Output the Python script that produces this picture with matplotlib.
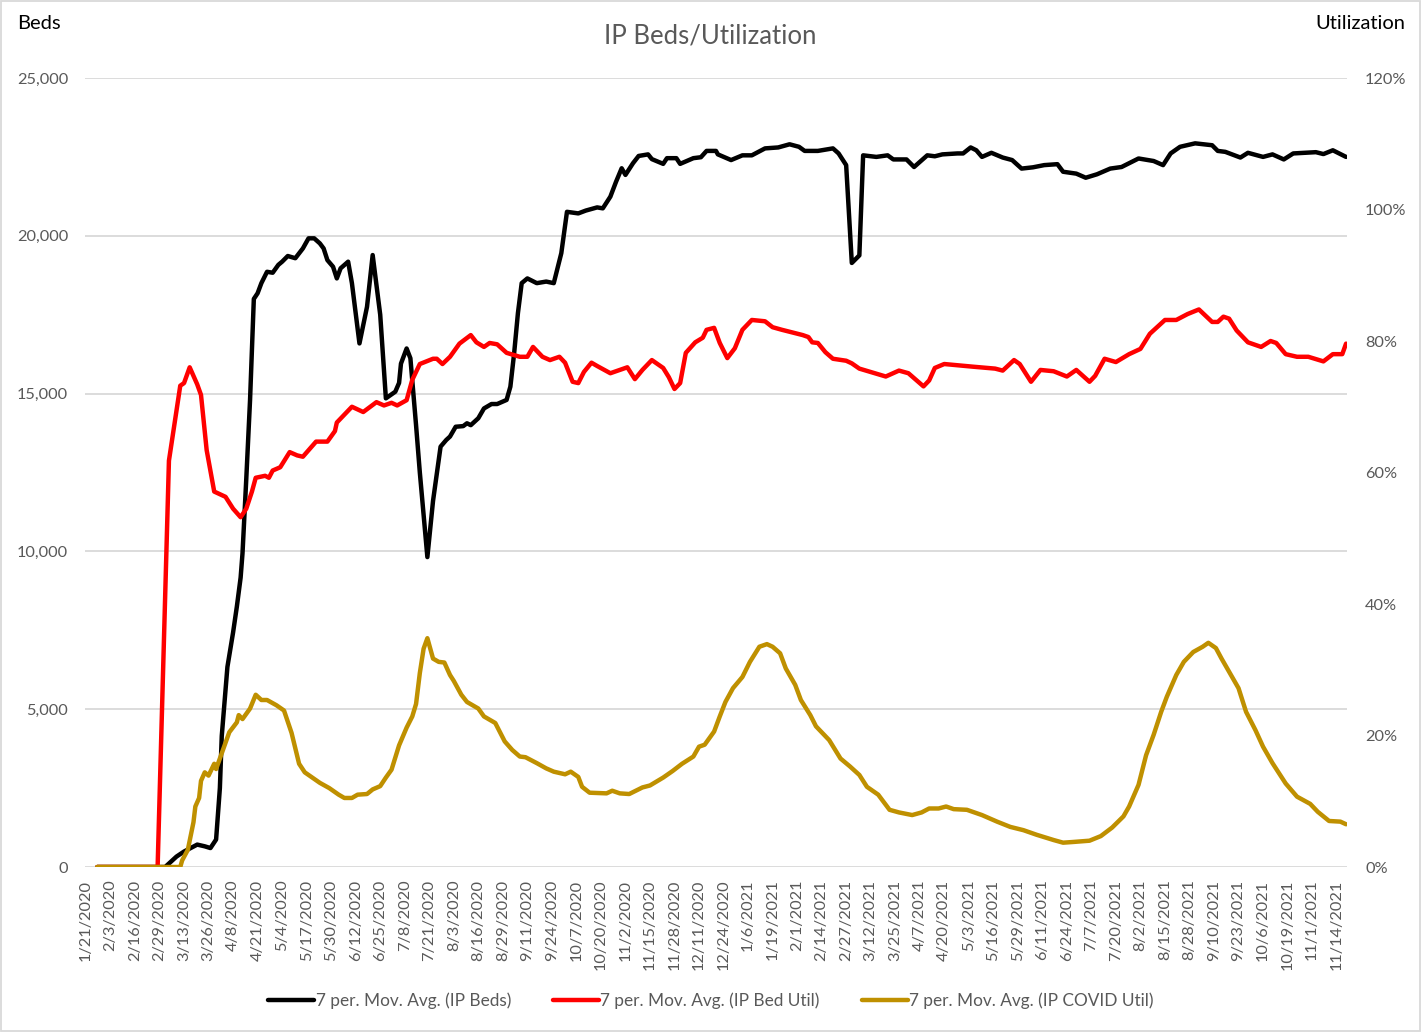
import matplotlib
matplotlib.use("Agg")
import matplotlib.pyplot as plt
from matplotlib.patches import Rectangle
from matplotlib.ticker import FuncFormatter, FixedLocator
import pandas as pd

plt.rcParams['font.family'] = ['Lato', 'DejaVu Sans']

START = pd.Timestamp("2020-01-21")
N_DAYS = 669  # categories 1/21/2020 .. 11/19/2021

tick_labels = ["1/21/2020", "2/3/2020", "2/16/2020", "2/29/2020", "3/13/2020", "3/26/2020",
               "4/8/2020", "4/21/2020", "5/4/2020", "5/17/2020", "5/30/2020", "6/12/2020",
               "6/25/2020", "7/8/2020", "7/21/2020", "8/3/2020", "8/16/2020", "8/29/2020",
               "9/11/2020", "9/24/2020", "10/7/2020", "10/20/2020", "11/2/2020", "11/15/2020",
               "11/28/2020", "12/11/2020", "12/24/2020", "1/6/2021", "1/19/2021", "2/1/2021",
               "2/14/2021", "2/27/2021", "3/12/2021", "3/25/2021", "4/7/2021", "4/20/2021",
               "5/3/2021", "5/16/2021", "5/29/2021", "6/11/2021", "6/24/2021", "7/7/2021",
               "7/20/2021", "8/2/2021", "8/15/2021", "8/28/2021", "9/10/2021", "9/23/2021",
               "10/6/2021", "10/19/2021", "11/1/2021", "11/14/2021"]

# ---- 7 per. Mov. Avg. (IP Beds) ----
beds_dates = ["2020-01-27", "2020-03-03", "2020-03-09", "2020-03-13", "2020-03-20", "2020-03-24",
              "2020-03-27", "2020-03-30", "2020-04-01", "2020-04-02", "2020-04-05", "2020-04-08",
              "2020-04-10", "2020-04-12", "2020-04-13", "2020-04-15", "2020-04-17", "2020-04-19",
              "2020-04-21", "2020-04-23", "2020-04-26", "2020-04-29", "2020-05-02", "2020-05-04",
              "2020-05-07", "2020-05-11", "2020-05-15", "2020-05-18", "2020-05-21", "2020-05-24",
              "2020-05-26", "2020-05-28", "2020-05-31", "2020-06-02", "2020-06-04", "2020-06-08",
              "2020-06-10", "2020-06-14", "2020-06-18", "2020-06-21", "2020-06-25", "2020-06-28",
              "2020-07-03", "2020-07-05", "2020-07-06", "2020-07-09", "2020-07-11", "2020-07-14",
              "2020-07-16", "2020-07-20", "2020-07-23", "2020-07-27", "2020-07-30", "2020-08-01",
              "2020-08-04", "2020-08-08", "2020-08-10", "2020-08-12", "2020-08-16", "2020-08-19",
              "2020-08-23", "2020-08-26", "2020-08-31", "2020-09-02", "2020-09-04", "2020-09-06",
              "2020-09-08", "2020-09-11", "2020-09-16", "2020-09-21", "2020-09-25", "2020-09-29",
              "2020-10-02", "2020-10-08", "2020-10-12", "2020-10-18", "2020-10-21", "2020-10-25",
              "2020-10-28", "2020-10-31", "2020-11-02", "2020-11-06", "2020-11-09", "2020-11-14",
              "2020-11-16", "2020-11-22", "2020-11-24", "2020-11-29", "2020-12-01", "2020-12-08",
              "2020-12-12", "2020-12-15", "2020-12-20", "2020-12-21", "2020-12-28", "2021-01-03",
              "2021-01-08", "2021-01-15", "2021-01-22", "2021-01-28", "2021-02-02", "2021-02-05",
              "2021-02-12", "2021-02-20", "2021-02-23", "2021-02-27", "2021-03-02", "2021-03-06",
              "2021-03-08", "2021-03-15", "2021-03-21", "2021-03-24", "2021-03-31", "2021-04-04",
              "2021-04-11", "2021-04-15", "2021-04-19", "2021-04-27", "2021-04-30", "2021-05-04",
              "2021-05-07", "2021-05-10", "2021-05-15", "2021-05-21", "2021-05-26", "2021-05-31",
              "2021-06-06", "2021-06-12", "2021-06-19", "2021-06-22", "2021-06-29", "2021-07-04",
              "2021-07-10", "2021-07-17", "2021-07-23", "2021-08-01", "2021-08-09", "2021-08-14",
              "2021-08-18", "2021-08-23", "2021-08-31", "2021-09-09", "2021-09-12", "2021-09-16",
              "2021-09-24", "2021-09-28", "2021-10-06", "2021-10-11", "2021-10-17", "2021-10-22",
              "2021-11-03", "2021-11-07", "2021-11-12", "2021-11-19"]
beds_values = [0, 0, 330, 490, 710, 655,
               600, 870, 2500, 4150, 6340, 7430,
               8250, 9170, 9940, 12300, 14800, 18000,
               18180, 18500, 18860, 18830, 19080, 19180,
               19360, 19290, 19600, 19920, 19920, 19760,
               19600, 19230, 19020, 18650, 18970, 19180,
               18500, 16590, 17750, 19390, 17500, 14850,
               15060, 15340, 15950, 16430, 16120, 14000,
               12500, 9820, 11600, 13320, 13530, 13640,
               13950, 13970, 14060, 14000, 14220, 14530,
               14670, 14670, 14800, 15220, 16280, 17550,
               18500, 18650, 18500, 18550, 18500, 19450,
               20760, 20710, 20800, 20900, 20870, 21240,
               21710, 22140, 21930, 22300, 22530, 22580,
               22430, 22280, 22460, 22460, 22280, 22460,
               22490, 22690, 22690, 22580, 22400, 22550,
               22550, 22770, 22800, 22900, 22820, 22690,
               22690, 22770, 22610, 22240, 19140, 19380,
               22550, 22500, 22550, 22420, 22420, 22180,
               22550, 22520, 22580, 22610, 22610, 22800,
               22710, 22500, 22630, 22480, 22400, 22130,
               22170, 22240, 22270, 22030, 21970, 21840,
               21950, 22130, 22180, 22450, 22370, 22240,
               22610, 22820, 22930, 22870, 22690, 22660,
               22480, 22630, 22500, 22580, 22420, 22610,
               22650, 22590, 22710, 22500]

# ---- 7 per. Mov. Avg. (IP Bed Util), percent ----
util_dates = ["2020-01-27", "2020-02-28", "2020-03-05", "2020-03-11", "2020-03-13", "2020-03-16",
              "2020-03-20", "2020-03-22", "2020-03-25", "2020-03-29", "2020-04-04", "2020-04-08",
              "2020-04-12", "2020-04-15", "2020-04-18", "2020-04-20", "2020-04-25", "2020-04-27",
              "2020-04-29", "2020-05-03", "2020-05-08", "2020-05-12", "2020-05-15", "2020-05-22",
              "2020-05-28", "2020-06-01", "2020-06-02", "2020-06-10", "2020-06-16", "2020-06-23",
              "2020-06-27", "2020-07-01", "2020-07-04", "2020-07-09", "2020-07-12", "2020-07-16",
              "2020-07-23", "2020-07-25", "2020-07-28", "2020-08-01", "2020-08-06", "2020-08-12",
              "2020-08-15", "2020-08-19", "2020-08-22", "2020-08-26", "2020-08-31", "2020-09-07",
              "2020-09-11", "2020-09-14", "2020-09-19", "2020-09-23", "2020-09-28", "2020-10-01",
              "2020-10-05", "2020-10-08", "2020-10-11", "2020-10-15", "2020-10-18", "2020-10-25",
              "2020-11-03", "2020-11-07", "2020-11-11", "2020-11-16", "2020-11-22", "2020-11-25",
              "2020-11-28", "2020-12-01", "2020-12-04", "2020-12-09", "2020-12-13", "2020-12-15",
              "2020-12-19", "2020-12-22", "2020-12-26", "2020-12-30", "2021-01-03", "2021-01-08",
              "2021-01-15", "2021-01-19", "2021-01-24", "2021-01-31", "2021-02-04", "2021-02-07",
              "2021-02-09", "2021-02-12", "2021-02-16", "2021-02-20", "2021-02-27", "2021-03-02",
              "2021-03-06", "2021-03-13", "2021-03-20", "2021-03-27", "2021-04-01", "2021-04-09",
              "2021-04-12", "2021-04-15", "2021-04-20", "2021-05-05", "2021-05-17", "2021-05-21",
              "2021-05-27", "2021-05-30", "2021-06-05", "2021-06-10", "2021-06-17", "2021-06-24",
              "2021-06-29", "2021-07-06", "2021-07-09", "2021-07-14", "2021-07-20", "2021-07-27",
              "2021-08-02", "2021-08-07", "2021-08-15", "2021-08-21", "2021-08-27", "2021-09-02",
              "2021-09-09", "2021-09-12", "2021-09-15", "2021-09-18", "2021-09-22", "2021-09-28",
              "2021-10-05", "2021-10-10", "2021-10-13", "2021-10-18", "2021-10-24", "2021-10-30",
              "2021-11-07", "2021-11-12", "2021-11-17", "2021-11-19"]
util_values = [0, 0, 61.8, 73.2, 73.6, 76.0,
               73.4, 71.8, 63.4, 57.1, 56.3, 54.5,
               53.2, 54.5, 57.1, 59.2, 59.5, 59.2,
               60.3, 60.8, 63.1, 62.6, 62.4, 64.7,
               64.7, 66.3, 67.6, 70.0, 69.2, 70.7,
               70.2, 70.6, 70.2, 71.0, 74.1, 76.5,
               77.3, 77.3, 76.5, 77.6, 79.6, 80.9,
               79.8, 79.1, 79.7, 79.5, 78.2, 77.6,
               77.6, 79.1, 77.6, 77.1, 77.6, 76.7,
               73.8, 73.6, 75.3, 76.7, 76.2, 75.1,
               76.0, 74.2, 75.6, 77.1, 75.9, 74.5,
               72.7, 73.6, 78.2, 79.8, 80.5, 81.7,
               82.0, 79.7, 77.4, 78.9, 81.7, 83.2,
               83.0, 82.1, 81.7, 81.2, 80.9, 80.6,
               79.8, 79.7, 78.3, 77.3, 77.0, 76.6,
               75.8, 75.2, 74.6, 75.5, 75.1, 73.1,
               74.0, 75.9, 76.5, 76.1, 75.8, 75.5,
               77.1, 76.5, 73.8, 75.6, 75.4, 74.6,
               75.6, 73.8, 74.7, 77.3, 76.8, 78.0,
               78.8, 81.1, 83.2, 83.2, 84.1, 84.8,
               82.9, 82.9, 83.7, 83.4, 81.6, 79.8,
               79.1, 80.0, 79.7, 78.0, 77.6, 77.6,
               76.9, 78.0, 78.0, 79.6]

# ---- 7 per. Mov. Avg. (IP COVID Util), percent ----
covid_dates = ["2020-01-27", "2020-03-11", "2020-03-12", "2020-03-15", "2020-03-18", "2020-03-19",
               "2020-03-21", "2020-03-22", "2020-03-24", "2020-03-26", "2020-03-29", "2020-03-30",
               "2020-04-02", "2020-04-04", "2020-04-06", "2020-04-10", "2020-04-11", "2020-04-13",
               "2020-04-17", "2020-04-20", "2020-04-23", "2020-04-26", "2020-05-01", "2020-05-05",
               "2020-05-09", "2020-05-13", "2020-05-16", "2020-05-20", "2020-05-24", "2020-05-29",
               "2020-06-03", "2020-06-06", "2020-06-10", "2020-06-13", "2020-06-18", "2020-06-21",
               "2020-06-25", "2020-06-28", "2020-07-01", "2020-07-05", "2020-07-09", "2020-07-12",
               "2020-07-14", "2020-07-16", "2020-07-18", "2020-07-20", "2020-07-23", "2020-07-26",
               "2020-07-29", "2020-08-01", "2020-08-03", "2020-08-07", "2020-08-10", "2020-08-16",
               "2020-08-19", "2020-08-25", "2020-08-30", "2020-09-03", "2020-09-07", "2020-09-10",
               "2020-09-16", "2020-09-21", "2020-09-25", "2020-10-01", "2020-10-04", "2020-10-08",
               "2020-10-10", "2020-10-14", "2020-10-23", "2020-10-26", "2020-10-30", "2020-11-04",
               "2020-11-11", "2020-11-15", "2020-11-22", "2020-11-27", "2020-12-02", "2020-12-08",
               "2020-12-11", "2020-12-14", "2020-12-19", "2020-12-22", "2020-12-25", "2020-12-29",
               "2021-01-03", "2021-01-07", "2021-01-12", "2021-01-16", "2021-01-19", "2021-01-23",
               "2021-01-26", "2021-01-31", "2021-02-03", "2021-02-08", "2021-02-11", "2021-02-18",
               "2021-02-24", "2021-03-01", "2021-03-06", "2021-03-10", "2021-03-16", "2021-03-22",
               "2021-03-27", "2021-04-03", "2021-04-08", "2021-04-12", "2021-04-17", "2021-04-21",
               "2021-04-25", "2021-05-02", "2021-05-10", "2021-05-18", "2021-05-25", "2021-06-01",
               "2021-06-08", "2021-06-17", "2021-06-22", "2021-06-27", "2021-07-06", "2021-07-12",
               "2021-07-18", "2021-07-24", "2021-07-27", "2021-08-01", "2021-08-05", "2021-08-09",
               "2021-08-13", "2021-08-16", "2021-08-21", "2021-08-25", "2021-08-30", "2021-09-04",
               "2021-09-07", "2021-09-11", "2021-09-14", "2021-09-18", "2021-09-23", "2021-09-27",
               "2021-10-02", "2021-10-06", "2021-10-11", "2021-10-18", "2021-10-24", "2021-10-31",
               "2021-11-04", "2021-11-10", "2021-11-16", "2021-11-19"]
covid_values = [0, 0, 1.0, 2.6, 6.8, 9.2,
                10.5, 13.1, 14.4, 13.9, 15.7, 14.9,
                17.3, 18.9, 20.5, 22.0, 23.1, 22.5,
                24.1, 26.2, 25.4, 25.4, 24.6, 23.8,
                20.4, 15.7, 14.4, 13.6, 12.8, 12.0,
                11.0, 10.5, 10.5, 11.0, 11.1, 11.8,
                12.3, 13.6, 14.8, 18.5, 21.2, 22.9,
                24.8, 29.5, 33.2, 34.8, 31.7, 31.2,
                31.1, 29.2, 28.3, 26.2, 25.1, 24.1,
                22.9, 21.9, 19.1, 17.8, 16.8, 16.7,
                15.8, 15.0, 14.5, 14.1, 14.5, 13.7,
                12.2, 11.3, 11.2, 11.6, 11.2, 11.1,
                12.1, 12.4, 13.6, 14.6, 15.7, 16.8,
                18.3, 18.6, 20.6, 22.9, 25.1, 27.2,
                28.9, 31.2, 33.5, 33.9, 33.5, 32.5,
                30.2, 27.7, 25.4, 23.1, 21.4, 19.3,
                16.5, 15.3, 14.0, 12.2, 11.0, 8.7,
                8.3, 7.9, 8.3, 8.9, 8.9, 9.2,
                8.8, 8.7, 7.9, 6.9, 6.1, 5.6,
                4.9, 4.1, 3.7, 3.8, 4.0, 4.7,
                6.0, 7.7, 9.2, 12.5, 17.0, 20.1,
                23.6, 25.9, 29.2, 31.2, 32.7, 33.5,
                34.1, 33.3, 31.7, 29.7, 27.2, 23.6,
                20.8, 18.3, 15.8, 12.7, 10.7, 9.6,
                8.4, 7.0, 6.9, 6.5]

beds_ticks = [0, 5000, 10000, 15000, 20000, 25000]
util_ticks = [0, 20, 40, 60, 80, 100, 120]

BLACK = "#000000"
RED = "#FF0000"
GOLD = "#BF9000"
GRAY_TXT = "#595959"
GRID = "#D9D9D9"


def day_index(dates):
    return [(pd.Timestamp(d) - START).days for d in dates]


fig = plt.figure(figsize=(14.22, 10.32), dpi=100)
ax = fig.add_axes([0.05977, 0.15988, 0.88748, 0.76453])
ax2 = ax.twinx()

LW = 3.2
l1, = ax.plot(day_index(beds_dates), beds_values, color=BLACK, lw=LW,
              solid_joinstyle="round", solid_capstyle="round")
l2, = ax2.plot(day_index(util_dates), util_values, color=RED, lw=LW,
               solid_joinstyle="round", solid_capstyle="round")
l3, = ax2.plot(day_index(covid_dates), covid_values, color=GOLD, lw=LW,
               solid_joinstyle="round", solid_capstyle="round")

ax.set_xlim(-0.5, N_DAYS - 0.5)
ax.set_ylim(0, 25000)
ax2.set_ylim(0, 120)

ax.set_yticks(beds_ticks)
ax.yaxis.set_major_formatter(FuncFormatter(lambda v, p: f"{int(v):,}"))
ax2.set_yticks(util_ticks)
ax2.yaxis.set_major_formatter(FuncFormatter(lambda v, p: f"{int(v)}%"))

tick_pos = day_index([pd.to_datetime(t, format="%m/%d/%Y") for t in tick_labels])
ax.xaxis.set_major_locator(FixedLocator(tick_pos))
ax.set_xticklabels(tick_labels, rotation=90, ha="center", va="top")

for a in (ax, ax2):
    for s in a.spines.values():
        s.set_visible(False)
    a.tick_params(length=0, colors=GRAY_TXT, labelsize=11.8)

ax.tick_params(axis="y", pad=12)
ax2.tick_params(axis="y", pad=13)
ax.tick_params(axis="x", pad=9, labelsize=11.8)

ax.grid(axis="y", color=GRID, lw=1.3)
ax.set_axisbelow(True)

fig.text(0.4993, 0.965, "IP Beds/Utilization", ha="center", va="center",
         fontsize=18.5, color=GRAY_TXT)
fig.text(0.012, 0.977, "Beds", ha="left", va="center", fontsize=14.5, color=BLACK)
fig.text(0.988, 0.977, "Utilization", ha="right", va="center", fontsize=14.5, color=BLACK)

fig.legend([l1, l2, l3],
           ["7 per. Mov. Avg. (IP Beds)", "7 per. Mov. Avg. (IP Bed Util)",
            "7 per. Mov. Avg. (IP COVID Util)"],
           loc="center", bbox_to_anchor=(0.5, 0.0305), ncol=3, frameon=False,
           fontsize=12.4, handlelength=2.65, handletextpad=0.1, columnspacing=2.45,
           labelcolor=GRAY_TXT)

fig.patches.append(Rectangle((0.0005, 0.0008), 0.998, 0.998, transform=fig.transFigure,
                             fill=False, edgecolor=GRID, lw=1.3))

fig.savefig("out.png", dpi=100)
